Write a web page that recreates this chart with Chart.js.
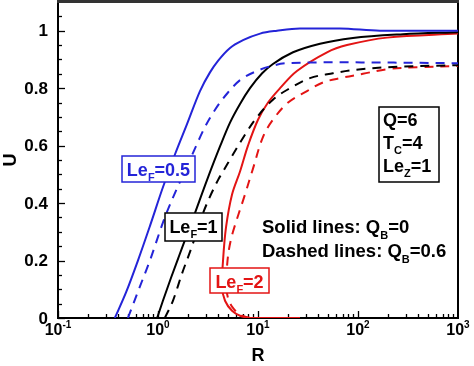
<!DOCTYPE html>
<html><head><meta charset="utf-8">
<script src="https://cdn.jsdelivr.net/npm/chart.js@4/dist/chart.umd.min.js"></script>
<style>html,body{margin:0;padding:0;background:#fff;}canvas{display:block;}</style>
</head><body>
<canvas id="c" width="474" height="366"></canvas>
<script>
// ---- data ----
const xTickExponents = [-1, 0, 1, 2, 3];
const yTickValues = [0, 0.2, 0.4, 0.6, 0.8, 1];

const blueSolidR = [0.37, 0.48, 0.63, 0.83, 1.12, 1.48, 1.95, 2.63, 3.31, 3.98, 5.25, 7.08, 10.5, 15.5, 26.3, 66, 166, 1000];
const blueSolidU = [0, 0.09, 0.2, 0.32, 0.455, 0.57, 0.675, 0.79, 0.855, 0.895, 0.94, 0.967, 0.99, 1.0, 1.008, 1.008, 1.0, 1.0];

const blueDashR = [0.50, 0.66, 0.83, 1.17, 1.66, 2.24, 2.95, 3.72, 5.01, 6.61, 9.77, 13.2, 19.5, 66, 1000];
const blueDashU = [0, 0.11, 0.2, 0.35, 0.475, 0.575, 0.665, 0.725, 0.785, 0.828, 0.86, 0.876, 0.887, 0.89, 0.887];

const blackSolidR = [0.98, 1.12, 1.35, 1.62, 1.95, 2.34, 3.09, 4.17, 5.25, 6.61, 8.32, 11.0, 14.1, 22.4, 41.7, 89, 282, 1000];
const blackSolidU = [0, 0.06, 0.14, 0.215, 0.29, 0.365, 0.48, 0.597, 0.68, 0.745, 0.80, 0.852, 0.884, 0.925, 0.955, 0.975, 0.988, 0.995];

const blackDashR = [1.17, 1.41, 1.74, 2.19, 2.82, 3.98, 4.47, 6.61, 9.33, 14.1, 20.9, 33.1, 56.2, 89.1, 195, 1000];
const blackDashU = [0, 0.06, 0.155, 0.25, 0.365, 0.48, 0.51, 0.61, 0.69, 0.76, 0.80, 0.835, 0.852, 0.863, 0.873, 0.88];

const redSolidR = [26.3, 8.32, 6.61, 5.50, 4.68, 4.37, 4.47, 4.79, 5.50, 6.61, 7.94, 10, 12.6, 16.6, 24.5, 49, 77.6, 195, 1000];
const redSolidU = [0, 0, 0.008, 0.025, 0.06, 0.107, 0.2, 0.316, 0.43, 0.51, 0.60, 0.69, 0.75, 0.80, 0.86, 0.925, 0.95, 0.976, 0.99];

const redDashR = [8.32, 6.76, 5.62, 5.01, 4.79, 4.90, 5.13, 5.62, 7.41, 8.91, 11.2, 14.1, 20, 30.9, 44.7, 66.1, 112, 195, 389, 1000];
const redDashU = [0, 0.01, 0.035, 0.07, 0.12, 0.18, 0.24, 0.30, 0.43, 0.52, 0.63, 0.69, 0.75, 0.79, 0.82, 0.835, 0.85, 0.866, 0.873, 0.877];

// ---- styles ----
const FF = 'Arial, "Liberation Sans", Helvetica, sans-serif';
const BLUE = '#2424d8', RED = '#e31414', BLACK = '#000';
const pts = (xs, ys) => xs.map((v, i) => ({x: v, y: ys[i]}));
const ds = (label, xs, ys, color, dashed, parametric) => Object.assign({
  label, data: pts(xs, ys), borderColor: color, borderWidth: 2,
  borderDash: dashed ? [9, 7] : [], pointRadius: 0, fill: false
}, parametric ? {tension: 0.35} : {cubicInterpolationMode: 'monotone'});

function rich(ctx, parts, x, y, size, color, align) {
  const main = `bold ${size}px ${FF}`;
  const small = `bold ${Math.round(size * 0.62)}px ${FF}`;
  let w = 0;
  parts.forEach(p => { ctx.font = p[1] ? small : main; w += ctx.measureText(p[0]).width; });
  let cx = align === 'center' ? x - w / 2 : x;
  ctx.fillStyle = color; ctx.textAlign = 'left'; ctx.textBaseline = 'alphabetic';
  parts.forEach(p => {
    ctx.font = p[1] ? small : main;
    const dy = p[1] === 1 ? size * 0.3 : p[1] === 2 ? -size * 0.42 : 0;
    ctx.fillText(p[0], cx, y + dy);
    cx += ctx.measureText(p[0]).width;
  });
}
function box(ctx, l, t, r, b, color) {
  ctx.save();
  ctx.fillStyle = '#fff'; ctx.fillRect(l, t, r - l, b - t);
  ctx.strokeStyle = color; ctx.lineWidth = 1.5; ctx.strokeRect(l, t, r - l, b - t);
  ctx.restore();
}

const overlay = {
  id: 'overlay',
  beforeDraw(chart) {
    const c = chart.ctx; c.save(); c.fillStyle = '#fff'; c.fillRect(0, 0, chart.width, chart.height); c.restore();
  },
  beforeDatasetsDraw(chart) {
    const ctx = chart.ctx, a = chart.chartArea, x = chart.scales.x, y = chart.scales.y;
    ctx.save();
    ctx.strokeStyle = '#000'; ctx.lineWidth = 1.3;
    for (let i = 0; i <= 21; i++) {
      const py = Math.round(y.getPixelForValue(i * 0.05)) + 0.5;
      const len = i % 4 === 0 ? 7 : 4;
      ctx.beginPath(); ctx.moveTo(a.left, py); ctx.lineTo(a.left + len, py); ctx.stroke();
    }
    for (let d = -1; d <= 2; d++) {
      for (let k = 1; k <= 9; k++) {
        const px = Math.round(x.getPixelForValue(k * Math.pow(10, d))) + 0.5;
        const len = k === 1 ? 7 : 4;
        ctx.beginPath(); ctx.moveTo(px, a.bottom); ctx.lineTo(px, a.bottom - len); ctx.stroke();
      }
    }
    ctx.strokeStyle = '#000'; ctx.lineWidth = 2;
    ctx.beginPath(); ctx.moveTo(a.left, a.top); ctx.lineTo(a.left, a.bottom); ctx.lineTo(a.right, a.bottom); ctx.lineTo(a.right, a.top); ctx.stroke();
    ctx.strokeStyle = '#333'; ctx.lineWidth = 3;
    ctx.beginPath(); ctx.moveTo(a.left - 1, 1.5); ctx.lineTo(a.right + 1, 1.5); ctx.stroke();
    ctx.restore();
  },
  afterDatasetsDraw(chart) {
    const ctx = chart.ctx, a = chart.chartArea, x = chart.scales.x, y = chart.scales.y;
    ctx.save();
    xTickExponents.forEach(e => {
      const px = x.getPixelForValue(Math.pow(10, e));
      rich(ctx, [['10', 0], [String(e), 2]], px, 335, 16, '#000', 'center');
    });
    ctx.fillStyle = '#000'; ctx.font = `bold 17px ${FF}`; ctx.textAlign = 'right'; ctx.textBaseline = 'middle';
    yTickValues.forEach(v => {
      ctx.fillText((v === 0 || v === 1) ? String(v) : v.toFixed(1), a.left - 10, y.getPixelForValue(v) + 1);
    });
    ctx.fillStyle = '#000'; ctx.font = `bold 18px ${FF}`; ctx.textAlign = 'center'; ctx.textBaseline = 'middle';
    ctx.fillText('R', 258, 356);
    ctx.save(); ctx.translate(11, 160); ctx.rotate(-Math.PI / 2); ctx.fillText('U', 0, 0); ctx.restore();
    box(ctx, 122, 156, 195, 182, BLUE);
    rich(ctx, [['Le', 0], ['F', 1], ['=0.5', 0]], 158.5, 176, 18, BLUE, 'center');
    box(ctx, 165, 213, 222, 241, BLACK);
    rich(ctx, [['Le', 0], ['F', 1], ['=1', 0]], 193.5, 233, 18, BLACK, 'center');
    box(ctx, 210, 268, 269, 293, RED);
    rich(ctx, [['Le', 0], ['F', 1], ['=2', 0]], 239.5, 288, 18, RED, 'center');
    box(ctx, 379, 107, 439, 182, BLACK);
    rich(ctx, [['Q=6', 0]], 383, 126, 18, BLACK, 'left');
    rich(ctx, [['T', 0], ['C', 1], ['=4', 0]], 383, 149, 18, BLACK, 'left');
    rich(ctx, [['Le', 0], ['Z', 1], ['=1', 0]], 383, 172, 18, BLACK, 'left');
    rich(ctx, [['Solid lines: Q', 0], ['B', 1], ['=0', 0]], 262, 233, 18.5, BLACK, 'left');
    rich(ctx, [['Dashed lines: Q', 0], ['B', 1], ['=0.6', 0]], 262, 257, 18.5, BLACK, 'left');
    ctx.restore();
  }
};

new Chart(document.getElementById('c'), {
  type: 'line',
  data: {
    datasets: [
      ds('LeF=0.5, QB=0', blueSolidR, blueSolidU, BLUE, false, false),
      ds('LeF=0.5, QB=0.6', blueDashR, blueDashU, BLUE, true, false),
      ds('LeF=1, QB=0', blackSolidR, blackSolidU, BLACK, false, false),
      ds('LeF=1, QB=0.6', blackDashR, blackDashU, BLACK, true, false),
      ds('LeF=2, QB=0', redSolidR, redSolidU, RED, false, true),
      ds('LeF=2, QB=0.6', redDashR, redDashU, RED, true, true)
    ]
  },
  options: {
    responsive: false, animation: false, devicePixelRatio: 1,
    layout: {padding: {top: 2, right: 16, bottom: 48, left: 58}},
    plugins: {legend: {display: false}, tooltip: {enabled: false}},
    scales: {
      x: {type: 'logarithmic', min: 0.1, max: 1000, display: false},
      y: {type: 'linear', min: 0, max: 1.1, display: false}
    }
  },
  plugins: [overlay]
});
</script>
</body></html>
